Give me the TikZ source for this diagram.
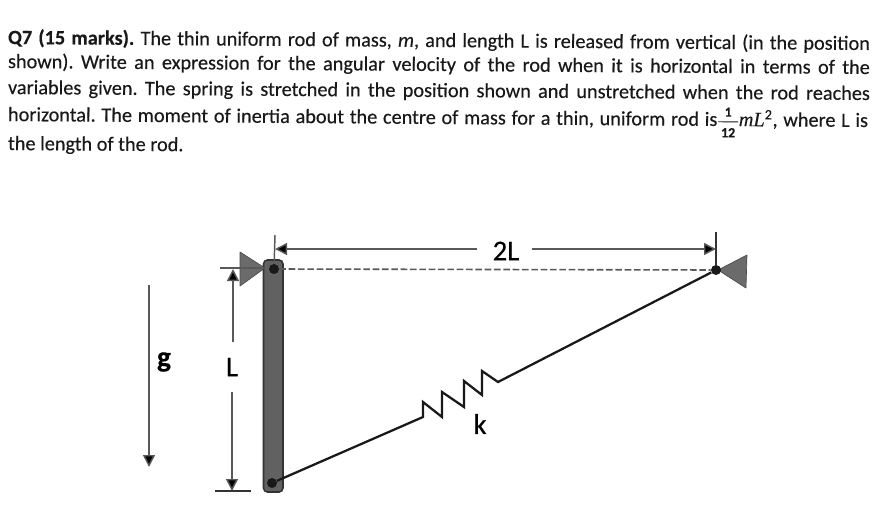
\documentclass[tikz,border=0pt]{standalone}
\usepackage{fontspec}
\usepackage{amsmath}
\setmainfont{Carlito}[FakeBold=0.35]
\newfontfamily\mlfont{Liberation Serif}[FakeBold=0.3]
\usetikzlibrary{arrows.meta}
\definecolor{rodgray}{gray}{0.38}
\definecolor{tri}{gray}{0.42}
\definecolor{dim}{gray}{0.35}
\newcommand{\fracpart}{\makebox[15pt][c]{\fontsize{10.5pt}{11pt}\selectfont\bfseries\makebox[0pt][c]{\raisebox{7pt}{1}}\makebox[0pt][c]{\rule[2.8pt]{15pt}{0.7pt}}\makebox[0pt][c]{\raisebox{-8.5pt}{12}}}}
\tikzset{
  x=0.75pt,y=-0.75pt,
  txt/.style={anchor=base west,inner sep=0,outer sep=0,font=\fontsize{15.2pt}{18pt}\selectfont\frenchspacing,text=black!90,rotate=-0.4},
  lab/.style={inner sep=0,outer sep=0,font=\fontsize{21.5pt}{24pt}\selectfont,text=black},
  dimline/.style={draw=dim,line width=1.1pt},
  dimarrow/.style={dimline,-{Triangle[length=9pt,width=9pt,fill=black]}},
  pin/.style={circle,fill=black!90,draw=none,minimum size=7.5pt,inner sep=0},
  support/.style={fill=tri,draw=tri!70!black,line width=0.5pt,line join=round},
  springline/.style={draw=black!90,line width=1.7pt,line join=miter}
}
\begin{document}
\begin{tikzpicture}
\useasboundingbox (0,0) rectangle (886,518);
% question text
\node[txt] (l1) at (8,44) {\makebox[646.5pt][s]{{\bfseries Q7 (15 marks).} The thin uniform rod of mass, \textit{m}, and length L is released from vertical (in the position}};
\node[txt] (l2) at (8,68) {\makebox[646.5pt][s]{shown). Write an expression for the angular velocity of the rod when it is horizontal in terms of the}};
\node[txt] (l3) at (8,94) {\makebox[646.5pt][s]{variables given. The spring is stretched in the position shown and unstretched when the rod reaches}};
\node[txt] (l4) at (8,121) {\makebox[645pt][s]{horizontal. The moment of inertia about the centre of mass for a thin, uniform rod is\kern0.5pt\fracpart\kern0.5pt{\mlfont\itshape mL}\textsuperscript{2}, where L is}};
\node[txt] (l5) at (8,150) {the length of the rod.};
% supports
\draw[support] (240,252) -- (240,286) -- (265,268) -- cycle;
\draw[support] (747,255) -- (746,288) -- (718,270) -- cycle;
% rod
\draw[fill=rodgray,draw=black!80,line width=1.2pt,rounded corners=3pt] (263.5,260) rectangle (283,492);
% coordinates and pins
\node[pin] (top) at (274,269) {};
\node[pin] (bot) at (272,483) {};
\node[pin] (right) at (716,270) {};
% extension lines
\coordinate (tl) at (220,268); \coordinate (tlr) at (264,268);
\draw[dimline] (tl) -- (tlr);
\coordinate (bl) at (215,491); \coordinate (blr) at (251,491);
\draw[dimline,black!80] (bl) -- (blr);
\coordinate (vt) at (275,235); \coordinate (vr) at (716,232);
\draw[dimline] (vt) -- (top);
\draw[dimline,black!80] (vr) -- (right);
% dashed line
\draw[dim,line width=1.2pt,dash pattern=on 5pt off 2pt] (top) -- (right);
% 2L dimension
\node[lab] (twoL) at (506,251) {2L};
\coordinate (a1) at (477,249); \coordinate (a2) at (275,249);
\coordinate (a3) at (532,249); \coordinate (a4) at (716,249);
\draw[dimarrow] (a1) -- (a2);
\draw[dimarrow] (a3) -- (a4);
% L dimension
\node[lab] (L) at (232,367) {L};
\coordinate (la) at (233,342); \coordinate (lb) at (233,269);
\coordinate (lc) at (232,392); \coordinate (ld) at (232,491);
\draw[dimarrow] (la) -- (lb);
\draw[dimarrow] (lc) -- (ld);
% g arrow
\coordinate (g1) at (149,285); \coordinate (g2) at (149,467);
\draw[dimarrow] (g1) -- (g2);
\node[lab,font=\bfseries\fontsize{22pt}{24pt}\selectfont] (g) at (164,362) {g};
% spring
\draw[springline] (bot) -- (423,417) -- (423,402) -- (442,417) -- (442,392) -- (464,407) -- (464,381) -- (482,395) -- (482,371) -- (498,382) -- (right);
\node[lab] (k) at (480,424) {k};
\end{tikzpicture}
\end{document}
